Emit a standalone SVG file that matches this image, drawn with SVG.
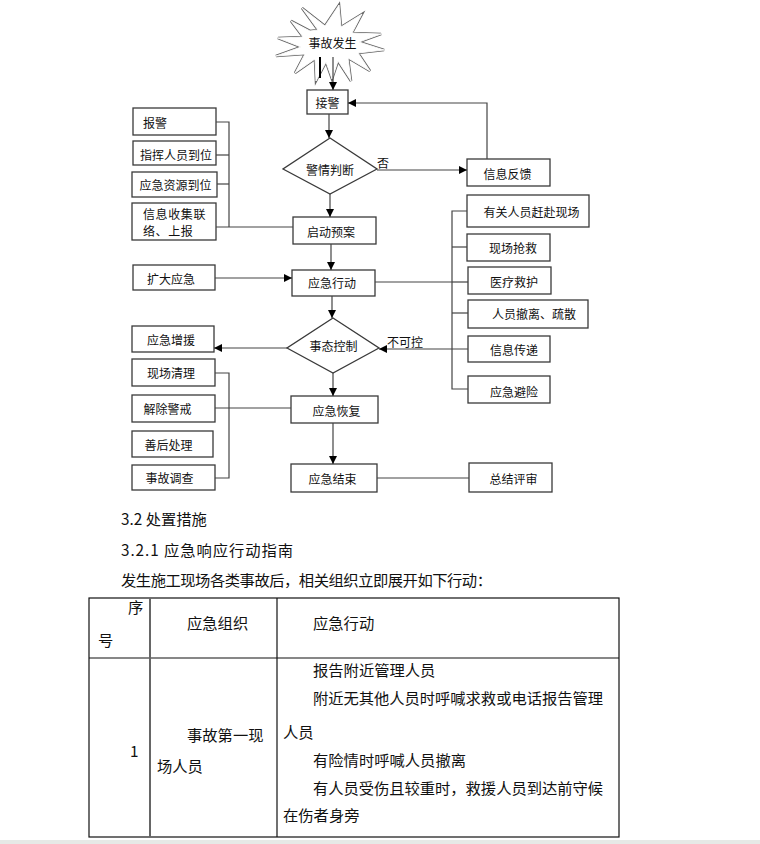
<svg xmlns="http://www.w3.org/2000/svg" width="760" height="844" viewBox="0 0 760 844">
<defs>
<marker id="ah" viewBox="0 0 10 10" refX="10" refY="5" markerWidth="9" markerHeight="8" markerUnits="userSpaceOnUse" orient="auto"><path d="M0,0 L10,5 L0,10 z" fill="#000"/></marker>
<style>
.bx{fill:#fff;stroke:#3a3a3a;stroke-width:1.3}
.ln{fill:none;stroke:#444;stroke-width:1.2}
.ar{fill:none;stroke:#444;stroke-width:1.2;marker-end:url(#ah)}
.t{font-family:"Noto Sans CJK SC","Liberation Sans",sans-serif;font-size:12px;fill:#111;dominant-baseline:central}
.c{text-anchor:middle}
.p{font-family:"Noto Sans CJK SC","Liberation Sans",sans-serif;font-size:15.3px;fill:#111;dominant-baseline:central}
.tb{fill:none;stroke:#111;stroke-width:1.2}
</style>
</defs>
<rect width="760" height="844" fill="#fff"/>

<g id="n-start">
<polygon points="318,30 302,8 325,26 339,5 341,27 362,14 352,33 381,34 359,42 384,50 358,53 370,71 348,58 351,81 338,61 332,79 326,62 316,81 315,59 295,73 305,54 276,56 301,47 278,38 303,37 291,21 310,31" fill="#fff" stroke="#666" stroke-width="2.6" stroke-linejoin="miter"/>
<polygon points="318,30 302,8 325,26 339,5 341,27 362,14 352,33 381,34 359,42 384,50 358,53 370,71 348,58 351,81 338,61 332,79 326,62 316,81 315,59 295,73 305,54 276,56 301,47 278,38 303,37 291,21 310,31" fill="#fff" stroke="#fff" stroke-width="0.9"/>
<text class="t c" x="332.5" y="42">事故发生</text>
</g>
<g id="n-jiejing"><rect class="bx" x="307" y="90" width="41" height="24"/><text class="t c" x="327.5" y="102">接警</text></g>
<g id="n-panduan"><polygon class="bx" points="330,138 377,169 330,194 283,169"/><text class="t c" x="330" y="169">警情判断</text></g>
<g id="l-fou"><text class="t" x="377" y="162">否</text></g>
<g id="n-fankui"><rect class="bx" x="467" y="159" width="83" height="27"/><text class="t c" x="507.5" y="173">信息反馈</text></g>
<g id="n-baojing"><rect class="bx" x="133" y="108" width="83" height="27"/><text class="t" x="143" y="122">报警</text></g>
<g id="n-zhihui"><rect class="bx" x="133" y="141" width="83" height="24"/><text class="t c" x="176" y="154">指挥人员到位</text></g>
<g id="n-ziyuan"><rect class="bx" x="132" y="172" width="85" height="25"/><text class="t c" x="175.5" y="184">应急资源到位</text></g>
<g id="n-xinxi"><rect class="bx" x="132" y="203" width="84" height="37"/><text class="t" x="143" y="213" letter-spacing="0.6">信息收集联</text><text class="t" x="143" y="230" letter-spacing="0.6">络、上报</text></g>
<g id="n-qidong"><rect class="bx" x="293" y="217" width="83" height="27"/><text class="t c" x="331" y="231">启动预案</text></g>
<g id="n-kuoda"><rect class="bx" x="133" y="265" width="82" height="25"/><text class="t c" x="171" y="278">扩大应急</text></g>
<g id="n-xingdong"><rect class="bx" x="292" y="270" width="83" height="26"/><text class="t c" x="332" y="282">应急行动</text></g>
<g id="n-ganfu"><rect class="bx" x="467" y="195" width="122" height="32"/><text class="t c" x="531.5" y="211">有关人员赶赴现场</text></g>
<g id="n-qiangjiu"><rect class="bx" x="467" y="234" width="83" height="27"/><text class="t c" x="513" y="247">现场抢救</text></g>
<g id="n-yiliao"><rect class="bx" x="468" y="267" width="83" height="27"/><text class="t c" x="514" y="281">医疗救护</text></g>
<g id="n-chesan"><rect class="bx" x="468" y="300" width="120" height="28"/><text class="t c" x="534" y="313">人员撤离、疏散</text></g>
<g id="n-chuandi"><rect class="bx" x="468" y="336" width="82" height="26"/><text class="t c" x="514" y="349">信息传递</text></g>
<g id="n-bixian"><rect class="bx" x="468" y="376" width="82" height="27"/><text class="t c" x="514" y="391">应急避险</text></g>
<g id="n-kongzhi"><polygon class="bx" points="333,318 379,348 333,373 287,348"/><text class="t c" x="333.5" y="345">事态控制</text></g>
<g id="l-bukekong"><text class="t" x="387" y="341">不可控</text></g>
<g id="n-zengyuan"><rect class="bx" x="132" y="326" width="82" height="26"/><text class="t c" x="171" y="339">应急增援</text></g>
<g id="n-qingli"><rect class="bx" x="132" y="359" width="83" height="27"/><text class="t c" x="171" y="372">现场清理</text></g>
<g id="n-jiechu"><rect class="bx" x="132" y="395" width="83" height="27"/><text class="t c" x="167.5" y="408">解除警戒</text></g>
<g id="n-shanhou"><rect class="bx" x="132" y="431" width="81" height="26"/><text class="t c" x="168.5" y="444">善后处理</text></g>
<g id="n-diaocha"><rect class="bx" x="132" y="465" width="83" height="25"/><text class="t c" x="169.5" y="477">事故调查</text></g>
<g id="n-huifu"><rect class="bx" x="291" y="396" width="87" height="27"/><text class="t c" x="336.5" y="410">应急恢复</text></g>
<g id="n-jieshu"><rect class="bx" x="291" y="464" width="86" height="28"/><text class="t c" x="332.5" y="478">应急结束</text></g>
<g id="n-pingshen"><rect class="bx" x="469" y="463" width="83" height="29"/><text class="t c" x="513.5" y="478">总结评审</text></g>

<g id="connectors">
<line x1="320" y1="57" x2="320" y2="78" stroke="#000" stroke-width="2"/>
<line class="ar" x1="333" y1="57" x2="333" y2="90"/>
<line class="ar" x1="329" y1="114" x2="329" y2="138"/>
<line class="ar" x1="377" y1="170" x2="467" y2="170"/>
<polyline class="ar" points="487,159 487,103 348,103"/>
<line class="ar" x1="330" y1="194" x2="330" y2="217"/>
<polyline class="ln" points="216,122 229,122 229,227"/>
<line class="ln" x1="216" y1="155" x2="229" y2="155"/>
<line class="ln" x1="217" y1="184" x2="229" y2="184"/>
<line class="ln" x1="216" y1="227" x2="293" y2="227"/>
<line class="ar" x1="331" y1="244" x2="331" y2="270"/>
<line class="ar" x1="215" y1="278" x2="292" y2="278"/>
<line class="ln" x1="375" y1="282" x2="452" y2="282"/>
<polyline class="ln" points="467,211 452,211 452,389 468,389"/>
<line class="ln" x1="452" y1="247" x2="467" y2="247"/>
<line class="ln" x1="452" y1="282" x2="468" y2="282"/>
<line class="ln" x1="452" y1="313" x2="468" y2="313"/>
<line class="ar" x1="468" y1="349" x2="379" y2="349"/>
<line class="ar" x1="332" y1="296" x2="332" y2="318"/>
<line class="ar" x1="287" y1="348" x2="214" y2="348"/>
<line class="ar" x1="333" y1="373" x2="333" y2="396"/>
<polyline class="ln" points="215,373 229,373 229,478 215,478"/>
<line class="ln" x1="215" y1="408" x2="291" y2="408"/>
<line class="ar" x1="333" y1="423" x2="333" y2="464"/>
<line class="ln" x1="377" y1="478" x2="469" y2="478"/>
</g>

<g id="body-text">
<text class="p" x="121" y="518">3.2 处置措施</text>
<text class="p" x="121" y="549" textLength="172" lengthAdjust="spacing">3.2.1 应急响应行动指南</text>
<text class="p" x="121" y="579" textLength="371" lengthAdjust="spacing">发生施工现场各类事故后，相关组织立即展开如下行动：</text>
</g>

<g id="table">
<rect class="tb" x="89" y="598" width="530" height="239"/>
<line class="tb" x1="89" y1="658" x2="619" y2="658"/>
<line x1="150" y1="598" x2="150" y2="837" stroke="#666" stroke-width="2"/>
<line class="tb" x1="277" y1="598" x2="277" y2="837"/>
<text class="p" x="128" y="606">序</text>
<text class="p" x="98" y="639">号</text>
<text class="p" x="187" y="622">应急组织</text>
<text class="p" x="313" y="622">应急行动</text>
<text class="p" x="130" y="750">1</text>
<text class="p" x="187" y="734">事故第一现</text>
<text class="p" x="157" y="765">场人员</text>
<text class="p" x="313" y="669">报告附近管理人员</text>
<text class="p" x="313" y="697" textLength="290" lengthAdjust="spacing">附近无其他人员时呼喊求救或电话报告管理</text>
<text class="p" x="283" y="731">人员</text>
<text class="p" x="313" y="759">有险情时呼喊人员撤离</text>
<text class="p" x="313" y="787" textLength="290" lengthAdjust="spacing">有人员受伤且较重时，救援人员到达前守候</text>
<text class="p" x="283" y="814">在伤者身旁</text>
</g>
<rect x="0" y="840" width="760" height="4" fill="#e6e9e6"/>
</svg>
